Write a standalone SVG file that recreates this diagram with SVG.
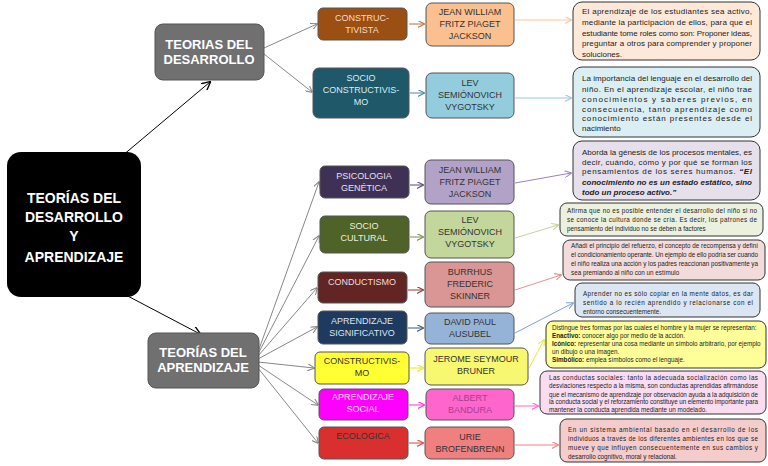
<svg xmlns="http://www.w3.org/2000/svg" width="768" height="466" viewBox="0 0 768 466">
<defs>
<style>
text{font-family:"Liberation Sans",Arial,sans-serif}
.n{stroke:#555;stroke-width:1}
.t{font-size:9px;text-anchor:middle}
.b{font-weight:bold}
.d{stroke:#333;stroke-width:1}
.dt{font-size:8px;fill:#222}
.st{font-size:6.3px;fill:#222}
.c{fill:none;stroke-width:1}
</style>
<marker id="a" viewBox="0 0 10 10" refX="9" refY="5" markerWidth="7" markerHeight="7" orient="auto-start-reverse" markerUnits="userSpaceOnUse"><path d="M0,0 L10,5 L0,10" fill="none" stroke="context-stroke" stroke-width="1.5"/></marker>
<marker id="k" viewBox="0 0 10 10" refX="9" refY="5" markerWidth="9" markerHeight="9" orient="auto" markerUnits="userSpaceOnUse"><path d="M0,0 L10,5 L0,10" fill="none" stroke="#000" stroke-width="1.5"/></marker>
</defs>
<g id="connectors">
<path d="M122,156 L210,82" stroke="#000" class="c" marker-end="url(#k)"/>
<path d="M122,293 L200,334" stroke="#000" class="c" marker-end="url(#k)"/>
<g stroke="#888" class="c" marker-end="url(#a)">
<path d="M264,48 L317,24"/><path d="M264,54 L312,92"/>
<path d="M258,352 L319,182"/><path d="M258,354 L319,236"/><path d="M258,356 L317,288"/><path d="M258,359 L317,327"/><path d="M258,362 L314,368"/><path d="M258,365 L318,405"/><path d="M258,368 L318,443"/>
</g>
<path d="M409,24 L424,24" stroke="#c07040" class="c" marker-end="url(#a)"/>
<path d="M410,93 L424,93" stroke="#4a8a9a" class="c" marker-end="url(#a)"/>
<path d="M410,185 L423,185" stroke="#5a4a70" class="c" marker-end="url(#a)"/>
<path d="M410,237 L423,237" stroke="#7a9050" class="c" marker-end="url(#a)"/>
<path d="M408,290 L423,290" stroke="#8a3a38" class="c" marker-end="url(#a)"/>
<path d="M408,328 L423,328" stroke="#3a5a80" class="c" marker-end="url(#a)"/>
<path d="M410,368 L423,368" stroke="#e8e820" class="c" marker-end="url(#a)"/>
<path d="M409,405 L424,405" stroke="#ff33cc" class="c" marker-end="url(#a)"/>
<path d="M409,443 L423,443" stroke="#e04040" class="c" marker-end="url(#a)"/>
<path d="M515,20 L571,20" stroke="#f8c8a0" class="c" marker-end="url(#a)"/>
<path d="M515,98 L571,98" stroke="#93cddd" class="c" marker-end="url(#a)"/>
<path d="M515,183 L571,173" stroke="#9a80c0" class="c" marker-end="url(#a)"/>
<path d="M515,238 L558,225" stroke="#c3d69b" class="c" marker-end="url(#a)"/>
<path d="M515,290 L561,275" stroke="#e09090" class="c" marker-end="url(#a)"/>
<path d="M515,333 L573,303" stroke="#80a0d8" class="c" marker-end="url(#a)"/>
<path d="M529,368 L544,340" stroke="#e8e840" class="c" marker-end="url(#a)"/>
<path d="M515,406 L538,406" stroke="#ff66cc" class="c" marker-end="url(#a)"/>
<path d="M515,445 L558,445" stroke="#f08080" class="c" marker-end="url(#a)"/>
</g>
<g id="main"><rect x="7" y="152" width="134" height="145" rx="14" fill="#000"/>
<text class="b" font-size="14" fill="#fff" text-anchor="middle"><tspan x="74" y="203">TEORÍAS DEL</tspan><tspan x="74" y="222">DESARROLLO</tspan><tspan x="74" y="241">Y</tspan><tspan x="74" y="262">APRENDIZAJE</tspan></text></g>
<g id="desarrollo"><rect x="155" y="24" width="109" height="56" rx="8" fill="#707070" class="n"/>
<text class="b" font-size="13" fill="#fff" text-anchor="middle"><tspan x="209" y="49">TEORIAS DEL</tspan><tspan x="209" y="64">DESARROLLO</tspan></text></g>
<g id="aprendizaje"><rect x="148" y="333" width="111" height="55" rx="8" fill="#707070" class="n"/>
<text class="b" font-size="13" fill="#fff" text-anchor="middle"><tspan x="203" y="357">TEORÍAS DEL</tspan><tspan x="203" y="372">APRENDIZAJE</tspan></text></g>

<g id="n1"><rect x="318" y="8" width="89" height="32" rx="5" fill="#9c4f12" class="n"/><text class="t" fill="#f5dcc8"><tspan x="362" y="21">CONSTRUC-</tspan><tspan x="362" y="33">TIVISTA</tspan></text></g>
<g id="n2"><rect x="313" y="68" width="96" height="50" rx="6" fill="#1f5868" class="n"/><text class="t" fill="#d8eef3"><tspan x="361" y="81">SOCIO</tspan><tspan x="361" y="93">CONSTRUCTIVIS-</tspan><tspan x="361" y="105">MO</tspan></text></g>
<g id="n3"><rect x="320" y="166" width="89" height="32" rx="5" fill="#3f3156" class="n"/><text class="t" fill="#e5e0ec"><tspan x="364" y="179">PSICOLOGIA</tspan><tspan x="364" y="191">GENÉTICA</tspan></text></g>
<g id="n4"><rect x="320" y="216" width="89" height="37" rx="5" fill="#4f6228" class="n"/><text class="t" fill="#ebf1de"><tspan x="364" y="229">SOCIO</tspan><tspan x="364" y="241">CULTURAL</tspan></text></g>
<g id="n5"><rect x="318" y="272" width="89" height="31" rx="5" fill="#632523" class="n"/><text class="t" fill="#f2dcdb"><tspan x="362" y="285">CONDUCTISMO</tspan></text></g>
<g id="n6"><rect x="318" y="311" width="89" height="33" rx="5" fill="#1f3a5f" class="n"/><text class="t" fill="#dce6f2"><tspan x="362" y="324">APRENDIZAJE</tspan><tspan x="362" y="336">SIGNIFICATIVO</tspan></text></g>
<g id="n7"><rect x="315" y="352" width="94" height="32" rx="5" fill="#ffff33" class="n"/><text class="t" fill="#333"><tspan x="362" y="364">CONSTRUCTIVIS-</tspan><tspan x="362" y="376">MO</tspan></text></g>
<g id="n8"><rect x="319" y="389" width="89" height="31" rx="5" fill="#ff00ff" class="n"/><text class="t" fill="#ffe0ff"><tspan x="363" y="400">APRENDIZAJE</tspan><tspan x="363" y="412">SOCIAL</tspan></text></g>
<g id="n9"><rect x="319" y="427" width="89" height="32" rx="5" fill="#d9302f" class="n"/><text class="t" fill="#333"><tspan x="363" y="439">ECOLOGICA</tspan></text></g>

<g id="p1"><rect x="426" y="3" width="88" height="43" rx="6" fill="#fac090" class="n"/><text class="t" fill="#333"><tspan x="470" y="15">JEAN WILLIAM</tspan><tspan x="470" y="27">FRITZ PIAGET</tspan><tspan x="470" y="39">JACKSON</tspan></text></g>
<g id="p2"><rect x="426" y="73" width="88" height="45" rx="6" fill="#93cddd" class="n"/><text class="t" fill="#333"><tspan x="470" y="86">LEV</tspan><tspan x="470" y="98">SEMIÓNOVICH</tspan><tspan x="470" y="110">VYGOTSKY</tspan></text></g>
<g id="p3"><rect x="425" y="160" width="89" height="44" rx="6" fill="#b3a2c7" class="n"/><text class="t" fill="#333"><tspan x="470" y="173">JEAN WILLIAM</tspan><tspan x="470" y="185">FRITZ PIAGET</tspan><tspan x="470" y="197">JACKSON</tspan></text></g>
<g id="p4"><rect x="425" y="211" width="89" height="47" rx="6" fill="#c3d69b" class="n"/><text class="t" fill="#333"><tspan x="470" y="223">LEV</tspan><tspan x="470" y="235">SEMIÓNOVICH</tspan><tspan x="470" y="247">VYGOTSKY</tspan></text></g>
<g id="p5"><rect x="425" y="262" width="89" height="45" rx="6" fill="#d99694" class="n"/><text class="t" fill="#333"><tspan x="470" y="275">BURRHUS</tspan><tspan x="470" y="287">FREDERIC</tspan><tspan x="470" y="299">SKINNER</tspan></text></g>
<g id="p6"><rect x="425" y="313" width="89" height="31" rx="6" fill="#95b3d7" class="n"/><text class="t" fill="#333"><tspan x="470" y="325">DAVID PAUL</tspan><tspan x="470" y="337">AUSUBEL</tspan></text></g>
<g id="p7"><rect x="425" y="348" width="103" height="37" rx="6" fill="#f8f870" class="n"/><text class="t" fill="#333"><tspan x="476" y="362">JEROME SEYMOUR</tspan><tspan x="476" y="374">BRUNER</tspan></text></g>
<g id="p8"><rect x="426" y="389" width="88" height="31" rx="6" fill="#ff66cc" class="n"/><text class="t" fill="#a04090"><tspan x="470" y="401">ALBERT</tspan><tspan x="470" y="413">BANDURA</tspan></text></g>
<g id="p9"><rect x="425" y="427" width="89" height="32" rx="6" fill="#f08080" class="n"/><text class="t" fill="#333"><tspan x="470" y="440">URIE</tspan><tspan x="470" y="452">BROFENBRENN</tspan></text></g>

<g id="d1"><rect x="573" y="2" width="187" height="58" rx="9" fill="#fde9d9" class="d"/>
<text class="dt"><tspan x="582" y="14" textLength="170">El aprendizaje de los estudiantes sea activo,</tspan><tspan x="582" y="25" textLength="170">mediante la participación de ellos, para que el</tspan><tspan x="582" y="36" textLength="170">estudiante tome roles como son: Proponer ideas,</tspan><tspan x="582" y="46" textLength="170">preguntar a otros para comprender y proponer</tspan><tspan x="582" y="57">soluciones.</tspan></text></g>
<g id="d2"><rect x="573" y="67" width="187" height="70" rx="9" fill="#dbeef3" class="d"/>
<text class="dt"><tspan x="582" y="81" textLength="170">La importancia del lenguaje en el desarrollo del</tspan><tspan x="582" y="92" textLength="170">niño. En el aprendizaje escolar, el niño trae</tspan><tspan x="582" y="102" textLength="170">conocimientos y saberes previos, en</tspan><tspan x="582" y="112" textLength="170">consecuencia, tanto aprendizaje como</tspan><tspan x="582" y="121" textLength="170">conocimiento están presentes desde el</tspan><tspan x="582" y="131">nacimiento</tspan></text></g>
<g id="d3"><rect x="573" y="141" width="187" height="59" rx="9" fill="#e5e0ec" class="d"/>
<text class="dt"><tspan x="582" y="155" textLength="170">Aborda la génesis de los procesos mentales, es</tspan><tspan x="582" y="165" textLength="170">decir, cuándo, cómo y por qué se forman los</tspan><tspan x="582" y="174" textLength="170">pensamientos de los seres humanos. <tspan class="b" font-style="italic">“El</tspan></tspan><tspan x="582" y="185" textLength="170" class="b" font-style="italic">conocimiento no es un estado estático, sino</tspan><tspan x="582" y="195" class="b" font-style="italic">todo un proceso activo.”</tspan></text></g>
<g id="d4"><rect x="560" y="203" width="203" height="33" rx="7" fill="#ebf1de" class="d"/>
<text class="st" font-size="6.8"><tspan x="567" y="213" textLength="190">Afirma que no es posible entender el desarrollo del niño si no</tspan><tspan x="567" y="222" textLength="190">se conoce la cultura donde se cría. Es decir, los patrones de</tspan><tspan x="567" y="231">pensamiento del individuo no se deben a factores</tspan></text></g>
<g id="d5"><rect x="563" y="240" width="202" height="40" rx="7" fill="#f2dcdb" class="d"/>
<text class="st" font-size="6"><tspan x="571" y="248" textLength="187">Añadí el principio del refuerzo, el concepto de recompensa y definí</tspan><tspan x="571" y="257" textLength="187">el condicionamiento operante. Un ejemplo de ello podría ser cuando</tspan><tspan x="571" y="266" textLength="187">el niño realiza una acción y los padres reaccionan positivamente ya</tspan><tspan x="571" y="275">sea premiando al niño con un estímulo</tspan></text></g>
<g id="d6"><rect x="575" y="283" width="185" height="34" rx="7" fill="#dce6f2" class="d"/>
<text class="st" font-size="7"><tspan x="583" y="296" textLength="170">Aprender no es sólo copiar en la mente datos, es dar</tspan><tspan x="583" y="305" textLength="170">sentido a lo recién aprendido y relacionarse con el</tspan><tspan x="583" y="314">entorno consecuentemente.</tspan></text></g>
<g id="d7"><rect x="546" y="321" width="220" height="47" rx="7" fill="#ffff99" class="d"/>
<text class="st" font-size="6"><tspan x="552" y="330">Distingue tres formas por las cuales el hombre y la mujer se representan:</tspan><tspan x="552" y="338"><tspan class="b">Enactivo:</tspan> conocer algo por medio de la acción.</tspan><tspan x="552" y="346"><tspan class="b">Icónico:</tspan> representar una cosa mediante un símbolo arbitrario, por ejemplo</tspan><tspan x="552" y="354">un dibujo o una imagen.</tspan><tspan x="552" y="362"><tspan class="b">Simbólico:</tspan> emplea símbolos como el lenguaje.</tspan></text></g>
<g id="d8"><rect x="540" y="371" width="226" height="43" rx="7" fill="#fadcf0" class="d"/>
<text class="st" font-size="5.8" fill="#7a4a6a"><tspan x="549" y="380" textLength="209">Las conductas sociales: tanto la adecuada socialización como las</tspan><tspan x="549" y="388" textLength="209">desviaciones respecto a la misma, son conductas aprendidas afirmándose</tspan><tspan x="549" y="397" textLength="209">que el mecanismo de aprendizaje por observación ayuda a la adquisición de</tspan><tspan x="549" y="404" textLength="209">la conducta social y el reforzamiento constituye un elemento importante para</tspan><tspan x="549" y="412">mantener la conducta aprendida mediante un modelado.</tspan></text></g>
<g id="d9"><rect x="560" y="419" width="206" height="43" rx="7" fill="#f4cccc" class="d"/>
<text class="st" font-size="6.8"><tspan x="568" y="432" textLength="190">En un sistema ambiental basado en el desarrollo de los</tspan><tspan x="568" y="441" textLength="190">individuos a través de los diferentes ambientes en los que se</tspan><tspan x="568" y="450" textLength="190">mueve y que influyen consecuentemente en sus cambios y</tspan><tspan x="568" y="459">desarrollo cognitivo, moral y relacional.</tspan></text></g>
</svg>
